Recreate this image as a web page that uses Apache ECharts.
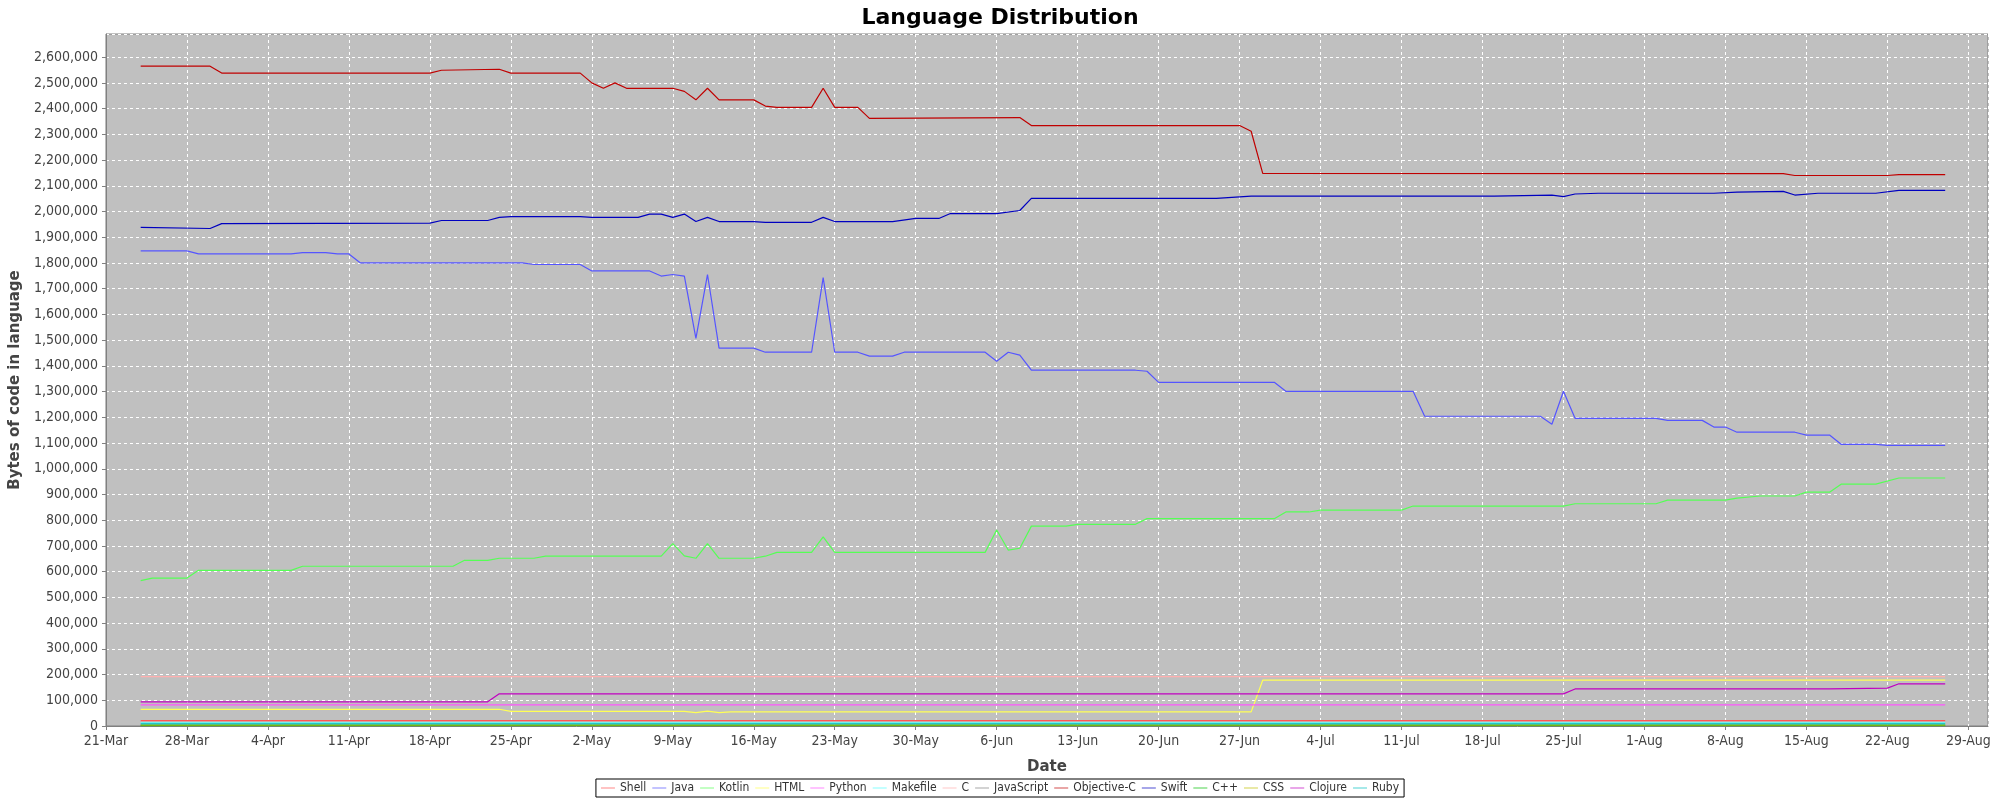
<!DOCTYPE html>
<html>
<head>
<meta charset="utf-8">
<script src="https://cdn.jsdelivr.net/npm/echarts@6/dist/echarts.min.js"></script>
<style>
  html, body { margin: 0; padding: 0; background: #fff; }
  #main { width: 2000px; height: 800px; }
</style>
</head>
<body>
<div id="main"></div>
<script>
// x = days after 21-Mar, y = thousands of bytes
var languages = ['Shell', 'Java', 'Kotlin', 'HTML', 'Python', 'Makefile', 'C', 'JavaScript', 'Objective-C', 'Swift', 'C++', 'CSS', 'Clojure', 'Ruby'];
var colors = ['#ff5555', '#5555ff', '#55ff55', '#ffff55', '#ff55ff', '#55ffff', '#ffafaf', '#808080', '#c00000', '#0000c0', '#00c000', '#c0c000', '#c000c0', '#00c0c0'];

var objcData = [[3,2565],[9,2565],[10,2538],[28,2538],[29,2549],[34,2553],[35,2538],[41,2538],[42,2500],[43,2479],[44,2500],[45,2479],[49,2479],[50,2467],[51,2434],[52,2479],[53,2434],[56,2434],[57,2410],[58,2405],[61,2405],[62,2479],[63,2405],[65,2405],[66,2362],[79,2365],[80,2334],[98,2334],[99,2312],[100,2148],[145,2147],[146,2140],[154,2140],[155,2143],[159,2143]];
var swiftData = [[3,1938],[9,1934],[10,1953],[28,1955],[29,1965],[33,1965],[34,1977],[35,1980],[41,1980],[42,1977],[46,1977],[47,1990],[48,1990],[49,1977],[50,1990],[51,1961],[52,1977],[53,1961],[56,1961],[57,1958],[61,1958],[62,1977],[63,1961],[68,1961],[70,1973],[72,1973],[73,1992],[77,1992],[79,2004],[80,2051],[96,2051],[99,2060],[120,2060],[125,2064],[126,2058],[127,2068],[129,2071],[139,2071],[141,2075],[145,2078],[146,2064],[148,2071],[153,2071],[155,2082],[159,2082]];
var javaData = [[3,1847],[7,1847],[8,1835],[16,1835],[17,1840],[19,1840],[20,1835],[21,1835],[22,1800],[36,1800],[37,1794],[41,1794],[42,1769],[47,1769],[48,1749],[49,1755],[50,1749],[51,1507],[52,1755],[53,1469],[56,1469],[57,1453],[61,1453],[62,1743],[63,1453],[65,1453],[66,1438],[68,1438],[69,1453],[76,1453],[77,1418],[78,1453],[79,1442],[80,1383],[89,1383],[90,1379],[91,1336],[101,1336],[102,1301],[113,1301],[114,1204],[124,1204],[125,1173],[126,1301],[127,1196],[134,1196],[135,1188],[138,1188],[139,1162],[140,1162],[141,1142],[146,1142],[147,1131],[149,1131],[150,1095],[153,1095],[154,1091],[159,1091]];
var kotlinData = [[3,565],[4,575],[7,575],[8,605],[16,605],[17,621],[30,621],[31,644],[33,644],[34,652],[37,652],[38,660],[48,660],[49,709],[50,661],[51,652],[52,709],[53,652],[56,652],[57,660],[58,675],[61,675],[62,735],[63,675],[76,675],[77,762],[78,684],[79,691],[80,777],[83,777],[84,784],[89,784],[90,806],[101,806],[102,832],[104,832],[105,839],[112,839],[113,855],[126,855],[127,864],[134,864],[135,878],[140,878],[141,886],[143,894],[146,894],[147,909],[149,909],[150,940],[153,940],[155,964],[159,964]];
var htmlData = [[3,65],[34,65],[35,57],[50,57],[51,52],[52,58],[53,52],[54,55],[99,55],[100,178],[159,178]];
var clojureData = [[3,94],[33,94],[34,125],[126,125],[127,144],[149,144],[154,147],[155,164],[159,164]];
var shellData = [[3,21],[159,21]];
var pythonData = [[3,82],[159,82]];
var makefileData = [[3,12],[159,12]];
var cData = [[3,192],[159,192]];
var javascriptData = [[3,3],[159,3]];
var cppData = [[3,1],[159,1]];
var cssData = [[3,4],[159,4]];
var rubyData = [[3,8],[159,8]];

var seriesData = [shellData, javaData, kotlinData, htmlData, pythonData, makefileData, cData, javascriptData, objcData, swiftData, cppData, cssData, clojureData, rubyData];

var months = ['Jan','Feb','Mar','Apr','May','Jun','Jul','Aug','Sep','Oct','Nov','Dec'];
var baseDate = Date.UTC(2018, 2, 21);
function dayLabel(v) {
    var d = new Date(baseDate + Math.round(v) * 86400000);
    return d.getUTCDate() + '-' + months[d.getUTCMonth()];
}

var series = [];
for (var i = 0; i < languages.length; i++) {
    series.push({
        name: languages[i],
        type: 'line',
        symbol: 'none',
        animation: false,
        lineStyle: { width: 1.2, color: colors[i] },
        itemStyle: { color: colors[i] },
        data: seriesData[i].map(function (p) { return [p[0], p[1] * 1000]; })
    });
}

var myChart = echarts.init(document.getElementById('main'));
option = {
    backgroundColor: '#ffffff',
    title: {
        text: 'Language Distribution',
        left: 'center',
        top: 2,
        textStyle: { fontFamily: 'DejaVu Sans', fontSize: 22, fontWeight: 'bold', color: '#000' }
    },
    legend: {
        data: languages,
        bottom: 3,
        left: 'center',
        icon: 'path://M0,5 L20,5 L20,6 L0,6 Z',
        itemWidth: 14,
        itemHeight: 12,
        itemGap: 6,
        borderColor: '#000',
        borderWidth: 1,
        padding: [3, 5],
        textStyle: { fontFamily: 'DejaVu Sans Condensed', fontSize: 12, color: '#333' }
    },
    grid: {
        left: 100, right: 12, top: 34, bottom: 74,
        show: true,
        backgroundColor: '#c0c0c0',
        borderColor: '#808080',
        borderWidth: 1
    },
    xAxis: {
        type: 'value',
        min: 0,
        max: 162.7,
        interval: 7,
        name: 'Date',
        nameLocation: 'middle',
        nameGap: 34,
        nameTextStyle: { fontFamily: 'DejaVu Sans', fontSize: 15, fontWeight: 'bold', color: '#444' },
        axisLine: { lineStyle: { color: '#808080' } },
        axisTick: { length: 4, lineStyle: { color: '#808080' } },
        axisLabel: {
            showMaxLabel: false,
            fontFamily: 'DejaVu Sans Condensed', fontSize: 14, color: '#444',
            formatter: dayLabel
        },
        splitLine: { lineStyle: { color: '#ffffff', type: [3, 3], width: 1 } }
    },
    yAxis: {
        type: 'value',
        min: 0,
        max: 2690000,
        interval: 100000,
        name: 'Bytes of code in language',
        nameLocation: 'middle',
        nameGap: 80,
        nameTextStyle: { fontFamily: 'DejaVu Sans', fontSize: 15, fontWeight: 'bold', color: '#444' },
        axisLine: { show: true, lineStyle: { color: '#808080' } },
        axisTick: { show: true, length: 4, lineStyle: { color: '#808080' } },
        axisLabel: {
            showMaxLabel: false,
            fontFamily: 'DejaVu Sans Condensed', fontSize: 14, color: '#444',
            formatter: function (v) { return v.toLocaleString('en-US'); }
        },
        splitLine: { lineStyle: { color: '#ffffff', type: [3, 3], width: 1 } }
    },
    series: series
};
myChart.setOption(option);
</script>
</body>
</html>
